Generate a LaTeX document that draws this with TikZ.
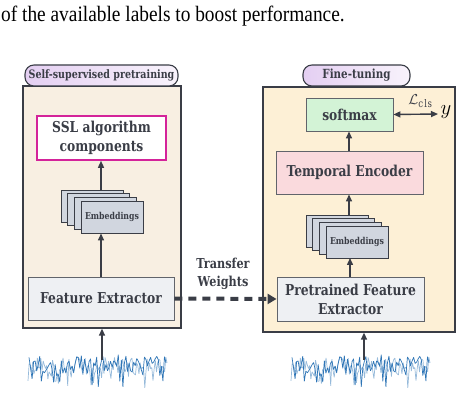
\documentclass[tikz,border=0pt]{standalone}
\usepackage{fontspec}
\setmainfont{DejaVu Serif}[FakeStretch=0.82]
\newfontfamily\capfont{Liberation Serif}[FakeStretch=0.88]
\usetikzlibrary{arrows.meta}
\definecolor{ink}{HTML}{3A3D46}
\definecolor{panelL}{HTML}{F8EFE2}
\definecolor{panelR}{HTML}{FDF0D6}
\definecolor{pillC}{HTML}{E4CFF2}
\definecolor{sslC}{HTML}{D4239A}
\definecolor{embC}{HTML}{D1D6DF}
\definecolor{feC}{HTML}{EEF0F3}
\definecolor{smC}{HTML}{D3F3D6}
\definecolor{teC}{HTML}{FADADD}
\definecolor{sigC}{HTML}{2E75B6}
\tikzset{
  panel/.style={draw=ink, line width=1.3pt, inner sep=0pt},
  pill/.style={draw=ink, line width=1.1pt, rounded corners=9pt, left color=pillC, right color=pillC!25, text=ink, font=\bfseries\fontsize{11.6}{13}\selectfont, inner sep=0pt},
  box/.style={draw=ink!80, line width=0.9pt, text=ink, font=\bfseries\fontsize{15}{19}\selectfont, align=center, inner sep=0pt},
  card/.style={draw=ink, line width=0.9pt, fill=embC, minimum width=62pt, minimum height=32pt, inner sep=0pt, text=ink, font=\bfseries\fontsize{9.5}{11}\selectfont},
  arr/.style={draw=ink, line width=1.4pt, -{Triangle[length=7pt,width=6pt]}},
  sig/.style={sigC, line width=0.7pt, line join=bevel},
}
\begin{document}
\begin{tikzpicture}[x=1pt,y=-1pt]
\useasboundingbox (0,0) rectangle (474,406);
% caption fragment
\node[anchor=base west, inner sep=0pt, font=\capfont\fontsize{22}{24}\selectfont] (cap) at (1,22) {of the available labels to boost performance.};
% left panel
\node[panel, fill=panelL, minimum width=158pt, minimum height=242pt] (lpanel) at (102,207) {};
\node[pill, minimum width=153pt, minimum height=21pt] (lpill) at (101.5,75.5) {Self-supervised pretraining};
\node[box, draw=sslC, line width=1.6pt, fill=white, minimum width=129pt, minimum height=44pt] (ssl) at (101.5,138) {SSL algorithm\\components};
\foreach \i/\dx/\dy in {1/-20/-11, 2/-13.3/-7.3, 3/-6.7/-3.7} {
  \node[card] (le\i) at (112+\dx,217+\dy) {};
}
\node[card] (le4) at (112,217) {Embeddings};
\node[box, fill=feC, minimum width=146pt, minimum height=43pt] (fe) at (101,298.5) {Feature Extractor};
% right panel
\node[panel, fill=panelR, minimum width=192pt, minimum height=245pt] (rpanel) at (359,209.5) {};
\node[pill, font=\bfseries\fontsize{12.6}{14}\selectfont, minimum width=107pt, minimum height=21pt] (rpill) at (356.5,75.5) {Fine-tuning};
\node[box, fill=smC, minimum width=87pt, minimum height=33pt] (sm) at (349.5,114.5) {softmax};
\node[box, fill=teC, minimum width=147pt, minimum height=43pt] (te) at (349.5,172.5) {Temporal Encoder};
\foreach \i/\dx/\dy in {1/-20/-11, 2/-13.3/-7.3, 3/-6.7/-3.7} {
  \node[card] (re\i) at (357+\dx,242+\dy) {};
}
\node[card] (re4) at (357,242) {Embeddings};
\node[box, fill=feC, minimum width=147pt, minimum height=44pt] (pfe) at (350.5,299) {Pretrained Feature\\Extractor};
% loss / label
\coordinate (yend) at (438,114);
\node[inner sep=0pt, font=\fontsize{22}{24}\selectfont] (ylab) at (446,112) {$y$};
\node[inner sep=0pt, font=\fontsize{15}{17}\selectfont, text=ink] (loss) at (421,101) {$\mathcal{L}_{\mathrm{cls}}$};
\draw[ink, line width=1.4pt, {Triangle[length=7pt,width=6pt]}-{Triangle[length=7pt,width=6pt]}] (sm.east) -- (yend);
% arrows left
\draw[arr] (fe.north) -- (fe.north |- le4.south);
\draw[arr] (fe.north |- le1.north) -- (fe.north |- ssl.south);
% arrows right
\draw[arr] (pfe.north -| 350,0) -- (350,258);
\draw[arr] (349,215) -- (te.south -| 349,0);
\draw[arr] (te.north -| 349,0) -- (sm.south -| 349,0);
% transfer
\draw[ink, line width=4pt, dash pattern=on 8pt off 6pt, -{Triangle[length=9pt,width=10pt]}] (fe.east) -- (pfe.west);
\node[text=ink, font=\bfseries\fontsize{13.7}{18}\selectfont, align=center, inner sep=0pt] (tw) at (223,274) {Transfer\\Weights};
% signals
\pgfmathsetseed{42}
\draw[sig, opacity=0.5] plot[domain=28:167, samples=120] (\x,{366+9*rand+(rnd>0.82)*14});
\draw[sig] plot[domain=29:166, samples=90] (\x,{364+10*rand+(rnd>0.85)*16});
\pgfmathsetseed{42}
\draw[sig, opacity=0.5] plot[domain=291:430, samples=120] (\x,{366+9*rand+(rnd>0.82)*14});
\draw[sig] plot[domain=292:429, samples=90] (\x,{364+10*rand+(rnd>0.85)*16});
\coordinate (lsig) at (102,360);
\coordinate (rsig) at (364,360);
\draw[arr] (lsig) -- (lpanel.south);
\draw[arr] (rsig) -- (rsig |- rpanel.south);
\end{tikzpicture}
\end{document}
